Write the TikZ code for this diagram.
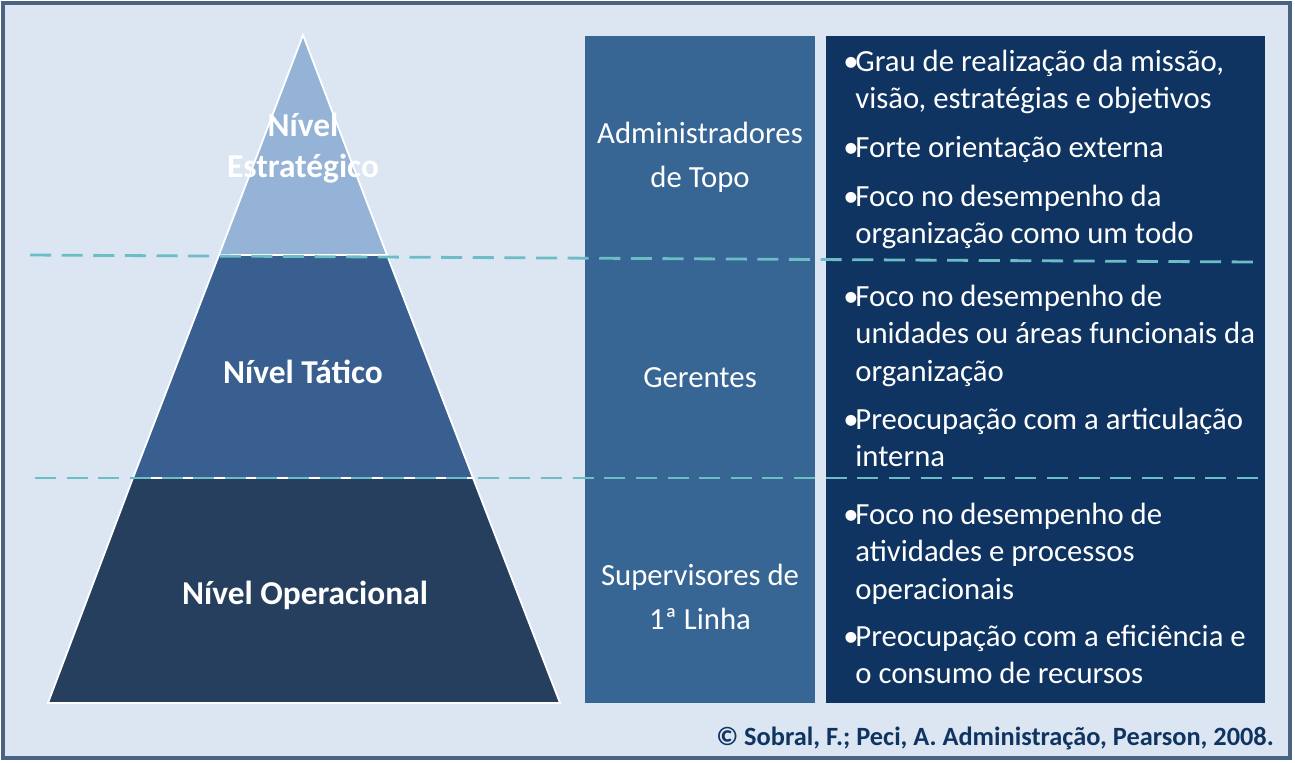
\documentclass[tikz,border=0pt]{standalone}
\usepackage{fontspec}
\setmainfont{Carlito}
\usetikzlibrary{positioning}
\definecolor{bgblue}{HTML}{DCE6F2}
\definecolor{frame}{HTML}{4A6382}
\definecolor{toplevel}{HTML}{95B3D7}
\definecolor{midlevel}{HTML}{385F8F}
\definecolor{lowlevel}{HTML}{263F5E}
\definecolor{rolecol}{HTML}{376594}
\definecolor{notecol}{HTML}{0F3462}
\definecolor{cutline}{HTML}{6CBDC6}
\tikzset{
  level/.style={draw=white, line width=1pt},
  levellabel/.style={text=white, font=\bfseries\fontsize{19}{23.5}\selectfont, align=center},
  rolelabel/.style={text=white, font=\fontsize{17.5}{25}\selectfont, align=center},
  bullet/.style={text=white, font=\fontsize{17.5}{21.2}\selectfont, anchor=north west,
    inner sep=0pt},
  cut/.style={cutline, dashed, dash pattern=on 12pt off 6pt, line width=1.6pt}
}
\newcommand{\bul}[1]{\makebox[0.24cm][l]{•}\parbox[t]{8.0cm}{\raggedright\hyphenpenalty=10000\exhyphenpenalty=10000 #1}}
\begin{document}
\begin{tikzpicture}[x=0.02cm,y=-0.02cm]
\useasboundingbox (0,0) rectangle (1295,762);
% background and frame
\draw[frame, line width=2.5pt, fill=bgblue] (3,3) rectangle (1290,758);
% pyramid
\draw[level, fill=lowlevel] (48,703) -- (133,478) -- (473,478) -- (560,703) -- cycle;
\draw[level, fill=midlevel] (133,478) -- (219,255) -- (387,255) -- (473,478) -- cycle;
\draw[level, fill=toplevel] (219,255) -- (303,35) -- (387,255) -- cycle;
\node[levellabel] (strat) at (303,148) {Nível\\Estratégico};
\node[levellabel] (tact) at (303,372) {Nível Tático};
\node[levellabel] (oper) at (305,595) {Nível Operacional};
% columns
\fill[rolecol] (585,36) rectangle (815,703);
\fill[notecol] (826,36) rectangle (1265,703);
\node[rolelabel] (topo) at (700,157) {Administradores\\de Topo};
\node[rolelabel] (ger) at (700,378) {Gerentes};
\node[rolelabel] (sup) at (700,597) {Supervisores de\\1ª Linha};
% bullets
\node[bullet] (b1) at (843,50) {\bul{Grau de realização da missão, visão, estratégias e objetivos}};
\node[bullet] (b2) at (843,136) {\bul{Forte orientação externa}};
\node[bullet] (b3) at (843,185) {\bul{Foco no desempenho da organização como um todo}};
\node[bullet] (b4) at (843,285) {\bul{Foco no desempenho de unidades ou áreas funcionais da organização}};
\node[bullet] (b5) at (843,408) {\bul{Preocupação com a articulação interna}};
\node[bullet] (b6) at (843,503) {\bul{Foco no desempenho de atividades e processos operacionais}};
\node[bullet] (b7) at (843,625) {\bul{Preocupação com a eficiência e o consumo de recursos}};
% level cuts
\draw[cut] (30,255) -- (1255,262);
\draw[cut] (35,478) -- (1258,478);
% source
\node[anchor=east, text=notecol, font=\bfseries\fontsize{15}{17}\selectfont] (src) at (1280,738)
  {© Sobral, F.; Peci, A. Administração, Pearson, 2008.};
\end{tikzpicture}
\end{document}
